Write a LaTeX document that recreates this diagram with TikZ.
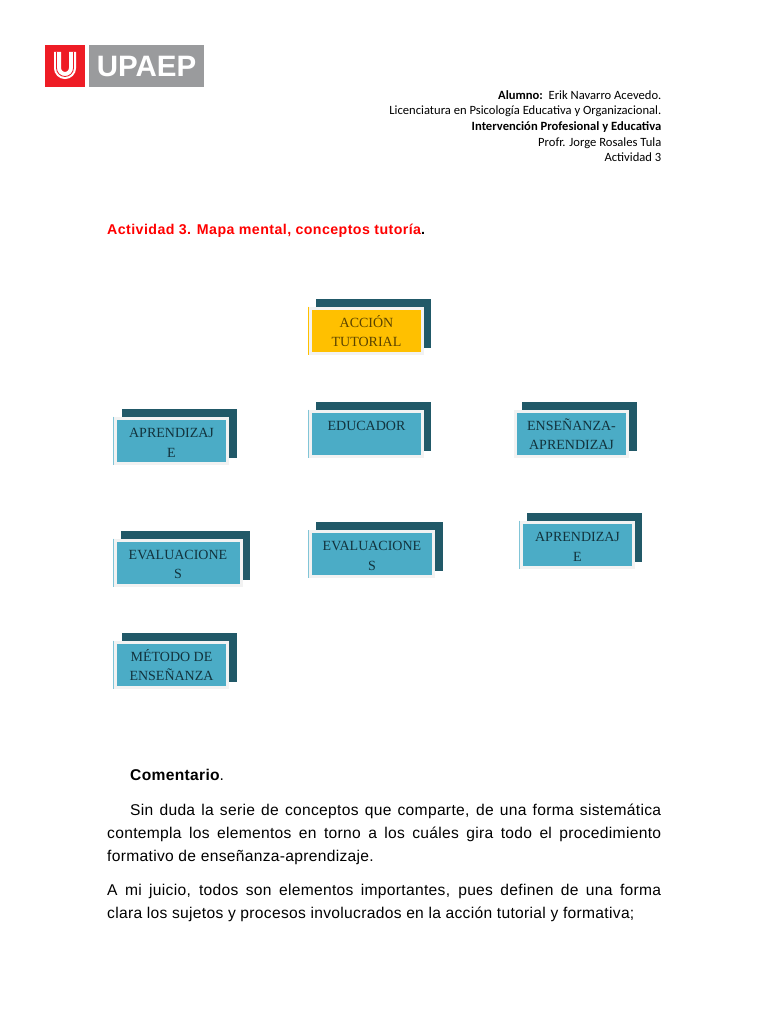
\documentclass[tikz,border=0pt]{standalone}
\usepackage{fontspec}
\setmainfont[LetterSpace=2]{Liberation Sans}
\newfontfamily\boxfont{Liberation Serif}
\newfontfamily\headfont{Carlito}
\newfontfamily\logofont{Liberation Sans}
\newfontfamily\titlefont[LetterSpace=3]{Liberation Sans}
\usetikzlibrary{positioning}
\definecolor{darkteal}{HTML}{215968}
\definecolor{boxblue}{HTML}{4BACC6}
\definecolor{boxamber}{HTML}{FFC000}
\definecolor{paleframe}{HTML}{F2F2F2}
\definecolor{inkblue}{HTML}{12333D}
\definecolor{inkamber}{HTML}{5A4300}
\definecolor{logored}{HTML}{EE1C25}
\definecolor{logogray}{HTML}{9A9B9D}
\definecolor{titlered}{HTML}{FF0000}

\begin{document}
\begin{tikzpicture}[x=1pt, y=-1pt,
    backbox/.style={rectangle, fill=darkteal, minimum width=115pt, minimum height=49pt, inner sep=0pt, outer sep=0pt},
    conceptbox/.style={rectangle, draw=paleframe, line width=3pt, fill=boxblue, minimum width=112pt, minimum height=45pt, inner sep=0pt, outer sep=0pt,
        align=center, text=inkblue, font=\boxfont\fontsize{14}{19.5}\selectfont, execute at begin node={\rule{0pt}{33pt}}},
    edgeline/.style={boxblue!70, line width=1pt, shorten <=-1.5pt, shorten >=-1.5pt},
    bodytext/.style={anchor=north west, inner sep=0pt, text width=554pt, align=justify, font=\fontsize{15.6}{23}\selectfont}
]
    \useasboundingbox (0,0) rectangle (768,1024);
    \fill[white] (0,0) rectangle (768,1024);

    % Logo
    \node[rectangle, fill=logored, minimum width=40pt, minimum height=42pt, inner sep=0pt] (logoU) at (64.5,66) {};
    \node[rectangle, fill=logogray, minimum width=115pt, minimum height=42pt, inner sep=0pt, text=white,
        font=\logofont\bfseries\fontsize{29.5}{30}\selectfont] (logoName) at (146.5,66) {UPAEP};
    \draw[white, line width=7pt] (57.5,52) -- (57.5,68) arc[start angle=180, end angle=360, radius=7.5pt] -- (72.5,52);
    \draw[logored, line width=0.8pt] (56.5,52) -- (56.5,68) arc[start angle=180, end angle=360, radius=8.5pt] -- (73.5,52);

    % Header
    \node[anchor=north east, inner sep=0pt, align=right, font=\headfont\fontsize{12.6}{15.7}\selectfont] (header) at (661.5,90)
        {\textbf{Alumno:}\ \ Erik Navarro Acevedo.\\
         Licenciatura en Psicología Educativa y Organizacional.\\
         \textbf{Intervención Profesional y Educativa}\\
         Profr. Jorge Rosales Tula\\
         Actividad 3};

    % Title
    \node[anchor=base west, inner sep=0pt, text=titlered, font=\titlefont\bfseries\fontsize{14.2}{16}\selectfont] (title) at (107,234)
        {Actividad 3. Mapa mental, conceptos tutoría\textcolor{black}{.}};

    % Back plates
    \node[backbox] (backAccion)    at (373.5,323.5) {};
    \node[backbox] (backEducador)  at (373.5,426.5) {};
    \node[backbox] (backEnsenanza) at (579,426) {};
    \node[backbox] (backAprendR)   at (584.5,537) {};
    \node[backbox] (backAprendL)   at (179,433) {};
    \node[backbox, minimum width=129pt] (backEvalL) at (185.5,555) {};
    \node[backbox, minimum width=127pt] (backEvalM) at (379.5,546.5) {};
    \node[backbox] (backMetodo)    at (179,657) {};

    % Concept boxes
    \node[conceptbox, fill=boxamber, text=inkamber] (accion) at (366.5,330.5) {ACCIÓN\\TUTORIAL};
    \node[conceptbox] (educador)  at (366.5,433.5) {EDUCADOR\\~};
    \node[conceptbox] (ensenanza) at (571.5,433.5) {ENSEÑANZA-\\APRENDIZAJ};
    \node[conceptbox] (aprendR)   at (577.5,544.5) {APRENDIZAJ\\E};
    \node[conceptbox] (aprendL)   at (171.5,440.5) {APRENDIZAJ\\E};
    \node[conceptbox, minimum width=126pt] (evalL) at (178,562.5) {EVALUACIONE\\S};
    \node[conceptbox, minimum width=123pt] (evalM) at (372,554) {EVALUACIONE\\S};
    \node[conceptbox] (metodo)    at (171.5,664.5) {MÉTODO DE\\ENSEÑANZA};

    % Left edges
    \draw[edgeline, boxamber] ([xshift=-2pt]accion.north west) -- ([xshift=-2pt]accion.south west);
    \draw[edgeline] ([xshift=-2pt]educador.north west) -- ([xshift=-2pt]educador.south west);
    \draw[edgeline] ([xshift=-2pt]aprendR.north west) -- ([xshift=-2pt]aprendR.south west);
    \draw[edgeline] ([xshift=-2pt]aprendL.north west) -- ([xshift=-2pt]aprendL.south west);
    \draw[edgeline] ([xshift=-2pt]evalL.north west) -- ([xshift=-2pt]evalL.south west);
    \draw[edgeline] ([xshift=-2pt]evalM.north west) -- ([xshift=-2pt]evalM.south west);
    \draw[edgeline] ([xshift=-2pt]metodo.north west) -- ([xshift=-2pt]metodo.south west);

    % Comment
    \node[anchor=base west, inner sep=0pt, font=\fontsize{15.6}{18}\selectfont] (comentario) at (130,780)
        {\textbf{Comentario}.};
    \node[bodytext] (parOne) at (107,804)
        {\parfillskip=0pt\hspace*{23pt}Sin duda la serie de conceptos que comparte, de una forma sistemática\linebreak
         contempla los elementos en torno a los cuáles gira todo el procedimiento\linebreak
         formativo de enseñanza-aprendizaje.\hspace*{\fill}};
    \node[bodytext] (parTwo) at (107,884)
        {\parfillskip=0pt A mi juicio, todos son elementos importantes, pues definen de una forma\linebreak
         clara los sujetos y procesos involucrados en la acción tutorial y formativa;};
\end{tikzpicture}
\end{document}
